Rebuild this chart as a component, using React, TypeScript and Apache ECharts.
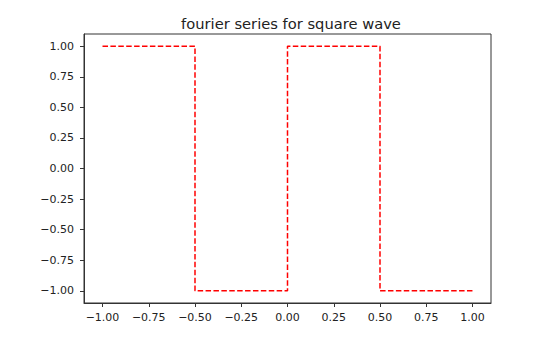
import React, { useEffect, useRef } from "react";
import * as echarts from "echarts";

const title = "fourier series for square wave";
const xValues = [-1, -0.5, -0.5, 0, 0, 0.5, 0.5, 1];
const yValues = [1, 1, -1, -1, 1, 1, -1, -1];
const xTicks = [-1, -0.75, -0.5, -0.25, 0, 0.25, 0.5, 0.75, 1];
const yTicks = [-1, -0.75, -0.5, -0.25, 0, 0.25, 0.5, 0.75, 1];

const fmt = (v: number) => (v < 0 ? "\u2212" : "") + Math.abs(v).toFixed(2);

export default function App() {
  const ref = useRef<HTMLDivElement>(null);
  useEffect(() => {
    if (!ref.current) return;
    const chart = echarts.init(ref.current, undefined, { renderer: "svg" });
    const font = "DejaVu Sans";
    const axisCommon = {
      type: "value" as const,
      min: -1.1,
      max: 1.1,
      splitLine: { show: false },
      axisLine: { show: true, onZero: false, lineStyle: { color: "#333", width: 1 } },
    };
    chart.setOption({
      animation: false,
      backgroundColor: "#fff",
      title: {
        text: title,
        left: 286,
        top: 11,
        textAlign: "center",
        textStyle: { fontFamily: font, fontSize: 14.7, fontWeight: "normal", color: "#222" },
      },
      grid: {
        left: 84,
        right: 65,
        top: 34,
        bottom: 49,
        show: true,
        borderColor: "#333",
        borderWidth: 1,
        backgroundColor: "transparent",
      },
      xAxis: {
        ...axisCommon,
        axisTick: { show: true, length: 4, customValues: xTicks, lineStyle: { color: "#333" } },
        axisLabel: {
          customValues: xTicks,
          formatter: fmt,
          margin: 9,
          fontFamily: font,
          fontSize: 11,
          color: "#222",
        },
      },
      yAxis: {
        ...axisCommon,
        axisTick: { show: true, length: 4, customValues: yTicks, lineStyle: { color: "#333" } },
        axisLabel: {
          customValues: yTicks,
          formatter: fmt,
          margin: 10,
          fontFamily: font,
          fontSize: 11,
          color: "#222",
        },
      },
      series: [
        {
          type: "line",
          data: xValues.map((x, i) => [x, yValues[i]]),
          showSymbol: false,
          symbol: "none",
          lineStyle: { color: "#ff0000", width: 1.5, type: [5.5, 2.4] },
        },
      ],
    });
    return () => chart.dispose();
  }, []);
  return (
    <div
      ref={ref}
      style={{ position: "fixed", left: 0, top: 0, width: 556, height: 352, background: "#fff" }}
    />
  );
}
